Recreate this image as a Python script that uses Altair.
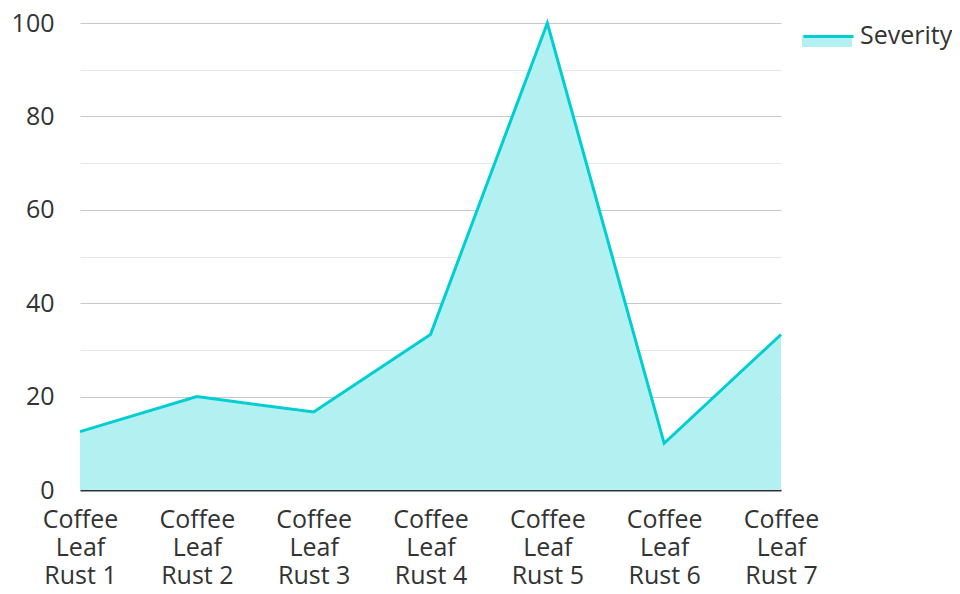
import altair as alt
import pandas as pd

categories = ["Coffee Leaf Rust 1", "Coffee Leaf Rust 2", "Coffee Leaf Rust 3",
              "Coffee Leaf Rust 4", "Coffee Leaf Rust 5", "Coffee Leaf Rust 6",
              "Coffee Leaf Rust 7"]
severity = [12.5, 20, 16.7, 33.3, 100, 10, 33.3]
series_name = "Severity"

df = pd.DataFrame({"cat": categories, "val": severity, "series": series_name})

LINE = "#00CED1"
FILL = "#B2F0F1"
FONT = "Open Sans"
TXT = "#333333"
FS = 25

x = alt.X("cat:N", sort=categories, title=None,
          scale=alt.Scale(type="point", padding=0),
          axis=alt.Axis(labelAngle=0, ticks=False, domainColor="#333333", domainWidth=2,
                        grid=False, labelFontSize=FS, labelColor=TXT, labelFont=FONT,
                        labelLineHeight=28, labelPadding=17,
                        labelExpr="[slice(datum.label,0,6), slice(datum.label,7,11), slice(datum.label,12)]"))

y = alt.Y("val:Q", scale=alt.Scale(domain=[0, 100], nice=False), title=None,
          axis=alt.Axis(values=list(range(0, 101, 10)), ticks=False, domain=False,
                        gridColor=alt.condition("datum.value % 20 === 0", alt.value("#C8C8C8"), alt.value("#E6E6E6")),
                        gridWidth=1, labelFontSize=FS, labelColor=TXT, labelFont=FONT,
                        labelPadding=26,
                        labelExpr="datum.value % 20 === 0 ? datum.label : ''"))

LX, LY = 722, -12

area = alt.Chart(df).mark_area(opacity=1).encode(
    x=x, y=y,
    fill=alt.Fill("series:N", title=None, scale=alt.Scale(range=[FILL]),
                  legend=alt.Legend(orient="none", legendX=LX, legendY=LY,
                                    symbolType="M-1,-0.04 H1 V0.44 H-1 Z",
                                    symbolSize=2500, symbolStrokeWidth=0,
                                    symbolOpacity=1, labelLimit=300,
                                    labelFontSize=FS, labelFont=FONT, labelColor=TXT,
                                    labelOffset=8)))

line = alt.Chart(df).mark_line(strokeWidth=3).encode(
    x=x, y=y,
    stroke=alt.Stroke("series:N", title=None, scale=alt.Scale(range=[LINE]),
                      legend=alt.Legend(orient="none", legendX=LX, legendY=LY,
                                        symbolType="M-1,-0.04 H1",
                                        symbolSize=2500, symbolStrokeWidth=3,
                                        symbolOpacity=1, labelLimit=300,
                                        labelFontSize=FS, labelFont=FONT, labelColor=TXT,
                                        labelOpacity=0, labelOffset=8)))

chart = alt.layer(area, line).properties(
    width=701, height=467,
    autosize=alt.AutoSizeParams(type="none"),
    padding={"left": 72, "top": 15, "right": 171, "bottom": 96},
).configure(font=FONT).configure_view(stroke=None)

chart.save("out.html", embed_options={"renderer": "svg", "actions": False})
